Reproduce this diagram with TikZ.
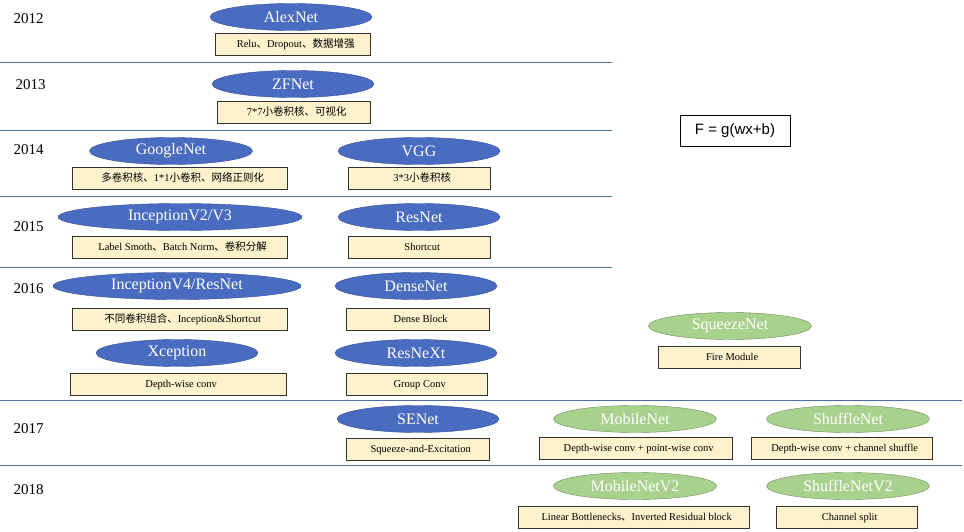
\documentclass[tikz,border=0pt]{standalone}
\usepackage{fontspec}
\setmainfont{Liberation Serif}
\newfontfamily\cjk{Noto Sans CJK SC}
\newfontfamily\sansf{Liberation Sans}
\usetikzlibrary{shapes.geometric}
\definecolor{bfill}{HTML}{4A6CC0}
\definecolor{bline}{HTML}{2F4F8F}
\definecolor{gfill}{HTML}{A9D18E}
\definecolor{gline}{HTML}{6D8F58}
\definecolor{yfill}{HTML}{FDF2CC}
\definecolor{sep}{HTML}{4A6FA5}
\tikzset{
 x=1pt,y=-1pt,
 bell/.style={ellipse,draw=bline,fill=bfill,text=white,inner sep=0,minimum height=27pt,font=\fontsize{16}{16}\selectfont},
 gell/.style={ellipse,draw=gline,fill=gfill,text=white,inner sep=0,minimum height=27pt,minimum width=163pt,font=\fontsize{16}{16}\selectfont},
 box/.style={draw=black!80,fill=yfill,anchor=north west,inner sep=0,minimum height=22pt,text height=8pt,text depth=2pt,font=\fontsize{10.5}{11}\selectfont,align=left},
 yr/.style={anchor=west,font=\fontsize{15}{15}\selectfont},
 sepl/.style={draw=sep,line width=0.8pt}
}
\newcommand{\bx}[5]{\node[box,minimum width=#3-#1] (#5) at (#1,#2) {\hspace{6pt}#4};}
\begin{document}
\begin{tikzpicture}
\useasboundingbox[fill=white] (0,0) rectangle (964,532);
\coordinate (l1a) at (0,62); \coordinate (l1b) at (612,62);
\coordinate (l2a) at (0,130); \coordinate (l2b) at (612,130);
\coordinate (l3a) at (0,196); \coordinate (l3b) at (612,196);
\coordinate (l4a) at (0,267); \coordinate (l4b) at (612,267);
\coordinate (l5a) at (0,400); \coordinate (l5b) at (962,400);
\coordinate (l6a) at (0,465); \coordinate (l6b) at (962,465);
\foreach \i in {1,...,6} \draw[sepl] (l\i a) -- (l\i b);
\node[yr] (y12) at (10,19) {2012};
\node[yr] (y13) at (12,85) {2013};
\node[yr] (y14) at (10,150) {2014};
\node[yr] (y15) at (10,227) {2015};
\node[yr] (y16) at (10,289) {2016};
\node[yr] (y17) at (10,429) {2017};
\node[yr] (y18) at (10,490) {2018};
\node[bell,minimum width=162pt] (alex) at (291,17) {AlexNet};
\node[bell,minimum width=162pt] (zf) at (293,84) {ZFNet};
\node[bell,minimum width=163pt] (goog) at (171,151) {GoogleNet};
\node[bell,minimum width=162pt] (vgg) at (419,151) {VGG};
\node[bell,minimum width=244pt] (inc2) at (180,217) {InceptionV2/V3};
\node[bell,minimum width=162pt] (res) at (419,217) {ResNet};
\node[bell,minimum width=248pt] (inc4) at (177,286) {InceptionV4/ResNet};
\node[bell,minimum width=162pt] (dense) at (416,286) {DenseNet};
\node[bell,minimum width=162pt] (xcep) at (177,353) {Xception};
\node[bell,minimum width=162pt] (resx) at (416,353) {ResNeXt};
\node[bell,minimum width=162pt] (se) at (418,419) {SENet};
\node[gell] (squeeze) at (730,326) {SqueezeNet};
\node[gell] (mob) at (635,419) {MobileNet};
\node[gell] (shuf) at (848,419) {ShuffleNet};
\node[gell] (mob2) at (635,486) {MobileNetV2};
\node[gell] (shuf2) at (848,486) {ShuffleNetV2};
\bx{215}{33}{370}{Relu{\cjk 、}Dropout{\cjk 、数据增强}}{b1}
\bx{217}{101}{370}{7*7{\cjk 小卷积核、可视化}}{b2}
\bx{72}{167}{287}{{\cjk 多卷积核、}1*1{\cjk 小卷积、网络正则化}}{b3}
\bx{348}{167}{490}{3*3{\cjk 小卷积核}}{b4}
\bx{72}{236}{287}{Label Smoth{\cjk 、}Batch Norm{\cjk 、卷积分解}}{b5}
\bx{348}{236}{490}{Shortcut}{b6}
\bx{72}{308}{287}{{\cjk 不同卷积组合、}Inception\&Shortcut}{b7}
\bx{346}{308}{489}{Dense Block}{b8}
\bx{70}{373}{286}{Depth-wise conv}{b9}
\bx{346}{373}{487}{Group Conv}{b10}
\bx{658}{346}{800}{Fire Module}{b11}
\bx{346}{438}{489}{Squeeze-and-Excitation}{b12}
\bx{539}{437}{732}{Depth-wise conv + point-wise conv}{b13}
\bx{751}{437}{932}{Depth-wise conv + channel shuffle}{b14}
\bx{518}{506}{749}{Linear Bottlenecks{\cjk 、}Inverted Residual block}{b15}
\bx{776}{506}{917}{Channel split}{b16}
\node[draw=black,fill=white,minimum width=110pt,minimum height=31pt,inner sep=0,font=\sansf\fontsize{15}{15}\selectfont] (f) at (735,131) {F = g(wx+b)};
\end{tikzpicture}
\end{document}
